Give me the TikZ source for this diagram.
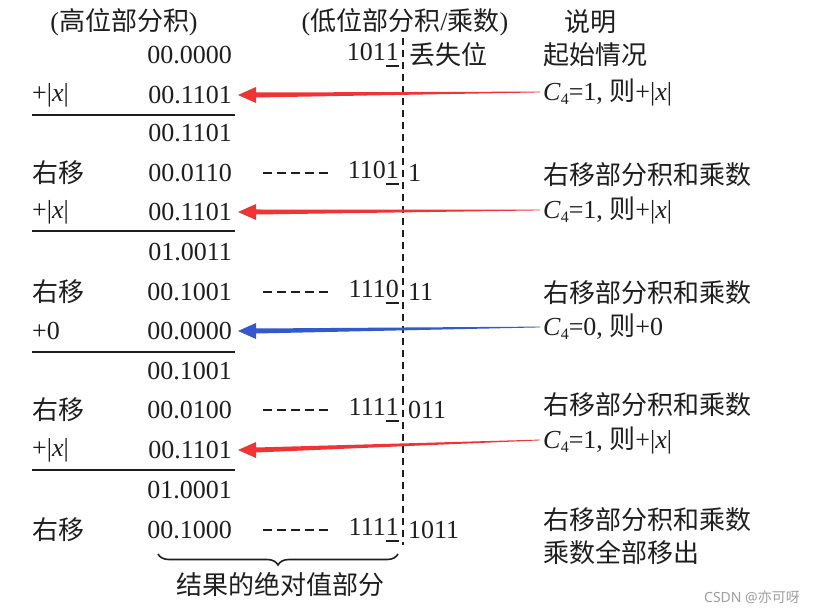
\documentclass[tikz,border=0pt]{standalone}
\usepackage{fontspec}
\setmainfont{Liberation Serif}
\newfontfamily\cjk{Noto Sans CJK SC}
\newfontfamily\wmfont{Noto Sans}
\usetikzlibrary{calc,decorations.pathreplacing}
\definecolor{arrred}{RGB}{238,52,52}
\definecolor{arrblue}{RGB}{52,88,205}
\definecolor{ink}{RGB}{30,30,30}
\newcommand{\ctext}[1]{{\cjk #1}}
\newcommand{\Cf}{\textit{C}\raisebox{-0.35ex}{\fontsize{16}{16}\selectfont 4}}
\newcommand{\absx}{|\textit{x}|}
\newcommand{\udig}[1]{\setbox0\hbox{#1}\rlap{\raisebox{-6pt}{\rule{\wd0}{1.6pt}}}#1}
\newcommand{\taper}[3]{%
  \fill[#3] ($(#2)+(6,0)$) -- ++(18,-8) -- ++(0,5.5) -- ($(#1)+(-3,-0.4)$) -- ($(#1)+(-3,0.4)$) -- ($(#2)+(24,2.5)$) -- ++(0,5.5) -- cycle;%
}
\tikzset{
  txt/.style={inner sep=0pt, font=\fontsize{26}{30}\selectfont, text=ink},
  hnum/.style={txt, anchor=east},
  lnum/.style={txt, anchor=east},
  tailtxt/.style={txt, anchor=west},
  lab/.style={txt, anchor=west},
  note/.style={txt, anchor=west},
  rulel/.style={line width=1.9pt, draw=ink},
  vdash/.style={line width=1.8pt, dash pattern=on 7pt off 5pt, draw=ink},
  hdash/.style={line width=1.8pt, dash pattern=on 9pt off 5pt, draw=ink},
}
\begin{document}
\begin{tikzpicture}[x=1pt,y=-1pt]
\useasboundingbox[fill=white] (0,0) rectangle (814,612);
% headers
\node[txt] (hh) at (124,22) {(\ctext{高位部分积})};
\node[txt] (lh) at (405,22) {(\ctext{低位部分积}/\ctext{乘数})};
\node[txt] (sh) at (590,22) {\ctext{说明}};
% high part numbers
\node[hnum] (h1) at (232,55) {00.0000};
\node[hnum] (h2) at (232,95) {00.1101};
\node[hnum] (h3) at (232,133) {00.1101};
\node[hnum] (h4) at (232,173) {00.0110};
\node[hnum] (h5) at (232,212) {00.1101};
\node[hnum] (h6) at (232,252) {01.0011};
\node[hnum] (h7) at (232,292) {00.1001};
\node[hnum] (h8) at (232,331) {00.0000};
\node[hnum] (h9) at (232,371) {00.1001};
\node[hnum] (h10) at (232,410) {00.0100};
\node[hnum] (h11) at (232,450) {00.1101};
\node[hnum] (h12) at (232,490) {01.0001};
\node[hnum] (h13) at (232,530) {00.1000};
% left labels
\node[lab] (l2) at (32,95) {+\absx};
\node[lab] (l4) at (32,173) {\ctext{右移}};
\node[lab] (l5) at (32,212) {+\absx};
\node[lab] (l7) at (32,292) {\ctext{右移}};
\node[lab] (l8) at (32,331) {+0};
\node[lab] (l10) at (32,410) {\ctext{右移}};
\node[lab] (l11) at (32,450) {+\absx};
\node[lab] (l13) at (32,530) {\ctext{右移}};
% rules
\draw[rulel] (32,115) -- (235,115);
\draw[rulel] (32,231) -- (235,231);
\draw[rulel] (32,352) -- (235,352);
\draw[rulel] (32,470) -- (235,470);
% low part
\node[lnum] (p1) at (399,55) {101\udig{1}};
\node[lnum] (p4) at (399,173) {110\udig{1}};
\node[lnum] (p7) at (399,292) {111\udig{0}};
\node[lnum] (p10) at (399,410) {111\udig{1}};
\node[lnum] (p13) at (399,530) {111\udig{1}};
\node[tailtxt] (t1) at (409,55) {\ctext{丢失位}};
\node[tailtxt] (t4) at (408,173) {1};
\node[tailtxt] (t7) at (408,292) {11};
\node[tailtxt] (t10) at (408,410) {011};
\node[tailtxt] (t13) at (408,530) {1011};
% dash links
\draw[hdash] ($(h4.east)+(31,0)$) -- ($(p4.west)+(-17,0)$);
\draw[hdash] ($(h7.east)+(31,0)$) -- ($(p7.west)+(-17,0)$);
\draw[hdash] ($(h10.east)+(31,0)$) -- ($(p10.west)+(-17,0)$);
\draw[hdash] ($(h13.east)+(31,0)$) -- ($(p13.west)+(-17,0)$);
% vertical dashed line
\draw[vdash] (403,38) -- (403,545);
% notes
\node[note] (n1) at (543,55) {\ctext{起始情况}};
\node[note] (c1) at (543,92) {\Cf=1, \ctext{则}+\absx};
\node[note] (n4) at (543,175) {\ctext{右移部分积和乘数}};
\node[note] (c5) at (543,210) {\Cf=1, \ctext{则}+\absx};
\node[note] (n7) at (543,293) {\ctext{右移部分积和乘数}};
\node[note] (c8) at (543,327) {\Cf=0, \ctext{则}+0};
\node[note] (n10) at (543,405) {\ctext{右移部分积和乘数}};
\node[note] (c11) at (543,440) {\Cf=1, \ctext{则}+\absx};
\node[note] (n13) at (543,520) {\ctext{右移部分积和乘数}};
\node[note] (e13) at (543,553) {\ctext{乘数全部移出}};
% arrows
\taper{c1.west}{h2.east}{arrred}
\taper{c5.west}{h5.east}{arrred}
\taper{c8.west}{h8.east}{arrblue}
\taper{c11.west}{h11.east}{arrred}
% brace
\draw[decorate, decoration={brace, mirror, amplitude=11pt}, line width=1.6pt, draw=ink] (158,554) -- (398,554);
\node[txt] (res) at (280,585) {\ctext{结果的绝对值部分}};
% watermark
\node[inner sep=0pt, anchor=east, text=gray!75, font=\fontsize{14}{16}\selectfont] (wm) at (800,597) {\wmfont CSDN @\ctext{亦可呀}};
\end{tikzpicture}
\end{document}
